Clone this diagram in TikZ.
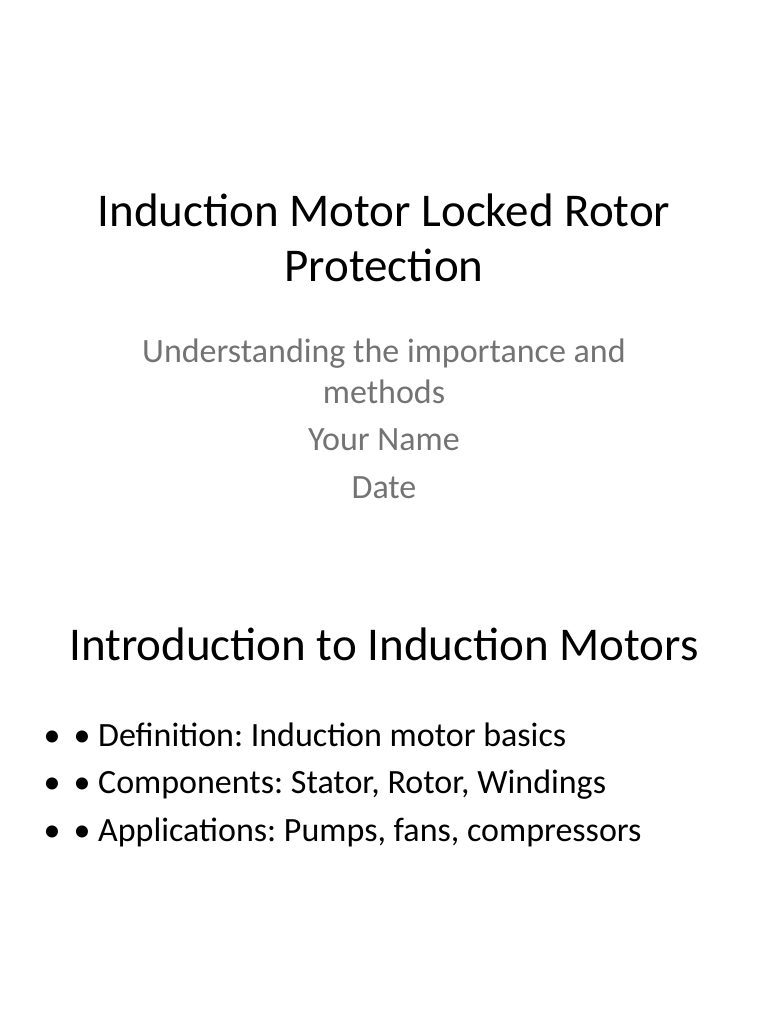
\documentclass[tikz,border=0pt]{standalone}
\usepackage{fontspec}
\setmainfont{Carlito}
\frenchspacing
\begin{document}
\begin{tikzpicture}[x=1pt,y=-1pt,
 ttl/.style={anchor=mid,font=\fontsize{47}{56}\selectfont,text=black},
 sub/.style={anchor=mid,font=\fontsize{34}{40}\selectfont,text=black!55},
 bul/.style={anchor=mid west,font=\fontsize{34}{40}\selectfont,text=black}]
\useasboundingbox[fill=white] (0,0) rectangle (768,1024);
\node[ttl] (t1) at (384,224) {Induction Motor Locked Rotor};
\node[ttl] (t2) at (384,279) {Protection};
\node[sub] (s1) at (384,360) {Understanding the importance and};
\node[sub] (s2) at (384,401) {methods};
\node[sub] (s3) at (384,448) {Your Name};
\node[sub] (s4) at (384,496) {Date};
\node[ttl] (t3) at (384,658) {Introduction to Induction Motors};
\node[bul] (b0) at (40,744) {•};
\node[bul] (b1) at (70,744) {• Definition: Induction motor basics};
\node[bul] (c0) at (40,791) {•};
\node[bul] (c1) at (70,791) {• Components: Stator, Rotor, Windings};
\node[bul] (d0) at (40,839) {•};
\node[bul] (d1) at (70,839) {• Applications: Pumps, fans, compressors};
\end{tikzpicture}
\end{document}
